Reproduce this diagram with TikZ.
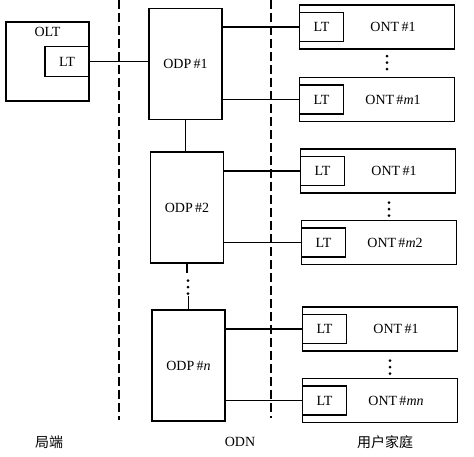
\documentclass[tikz,border=0pt]{standalone}
\usepackage{fontspec}
\setmainfont{Liberation Serif}
\newfontfamily\cjk{Noto Sans CJK SC}
\usetikzlibrary{positioning,calc}

\begin{document}
\begin{tikzpicture}[
  x=1pt, y=-1pt,
  font=\fontsize{14}{16}\selectfont,
  box/.style={draw, line width=1.4pt, inner sep=0pt},
  odpbox/.style={box, minimum width=73pt, minimum height=111pt},
  ontbox/.style={box, minimum width=155pt, minimum height=44pt},
  ltbox/.style={box, minimum width=44pt, minimum height=29pt},
  link/.style={line width=1.1pt},
  zone/.style={line width=1.1pt, dash pattern=on 9pt off 4pt},
  zonelbl/.style={font=\cjk\fontsize{14}{16}\selectfont}
]
\useasboundingbox (0,0) rectangle (474,456);

\node[box, minimum width=83pt, minimum height=79pt,
      label={[anchor=north, yshift=-2pt]north:OLT}] (olt) at (47.5,61.5) {};
\node[ltbox, minimum height=30pt, anchor=east] (lt0) at (olt.east) {LT};

\node[odpbox] (odp1) at (185.5,64) {ODP\,\#1};
\node[odpbox] (odp2) at (187,207.5) {ODP\,\#2};
\node[odpbox] (odpn) at (188.5,365.5) {ODP\,\#\textit{n}};

\node[ontbox, label={[xshift=16pt]center:ONT\,\#1}] (ont1a) at (377,27) {};
\node[ontbox, label={[xshift=16pt]center:ONT\,\#\textit{m}1}] (ont1b) at (377,99.5) {};
\node[ontbox, label={[xshift=16pt]center:ONT\,\#1}] (ont2a) at (378,171) {};
\node[ontbox, label={[xshift=16pt]center:ONT\,\#\textit{m}2}] (ont2b) at (379,242.5) {};
\node[ontbox, label={[xshift=16pt]center:ONT\,\#1}] (ont3a) at (380,329) {};
\node[ontbox, label={[xshift=16pt]center:ONT\,\#\textit{mn}}] (ont3b) at (380,400.5) {};
\node[ltbox, anchor=west] (lt1a) at (ont1a.west) {LT};
\node[ltbox, anchor=west] (lt1b) at (ont1b.west) {LT};
\node[ltbox, anchor=west] (lt2a) at (ont2a.west) {LT};
\node[ltbox, anchor=west] (lt2b) at (ont2b.west) {LT};
\node[ltbox, anchor=west] (lt3a) at (ont3a.west) {LT};
\node[ltbox, anchor=west] (lt3b) at (ont3b.west) {LT};

\coordinate (zone1top) at (119,0);
\coordinate (zone1bot) at (119,420);
\coordinate (zone2top) at (271,0);
\coordinate (zone2bot) at (271,418);
\draw[zone] (zone1top) -- (zone1bot);
\draw[zone] (zone2top) -- (zone2bot);

\draw[link] (lt0.east) -- (odp1.west |- lt0.east);
\draw[link] (odp1.south) -- (odp1.south |- odp2.north);
\coordinate (gapa) at ($(odp2.south)+(0,9)$);
\coordinate (gapb) at ($(odpn.north)+(0,-13)$);
\draw[link] (odp2.south) -- (gapa);
\draw[link] (gapb) -- (odpn.north);
\draw[link] (odp1.east |- lt1a.west) -- (lt1a.west);
\draw[link] (odp1.east |- lt1b.west) -- (lt1b.west);
\draw[link] (odp2.east |- lt2a.west) -- (lt2a.west);
\draw[link] (odp2.east |- lt2b.west) -- (lt2b.west);
\draw[link] (odpn.east |- lt3a.west) -- (lt3a.west);
\draw[link] (odpn.east |- lt3b.west) -- (lt3b.west);

\foreach \x/\y in {387/62.5, 389/209, 390/367, 188/287}
  \foreach \d in {-6.5,0,6.5}
    \fill (\x,\y+\d) circle (1.5pt);

\node[zonelbl] (lblco) at (49,442) {局端};
\node (lblodn) at (240,442) {ODN};
\node[zonelbl] (lblhome) at (385,442) {用户家庭};
\end{tikzpicture}
\end{document}
